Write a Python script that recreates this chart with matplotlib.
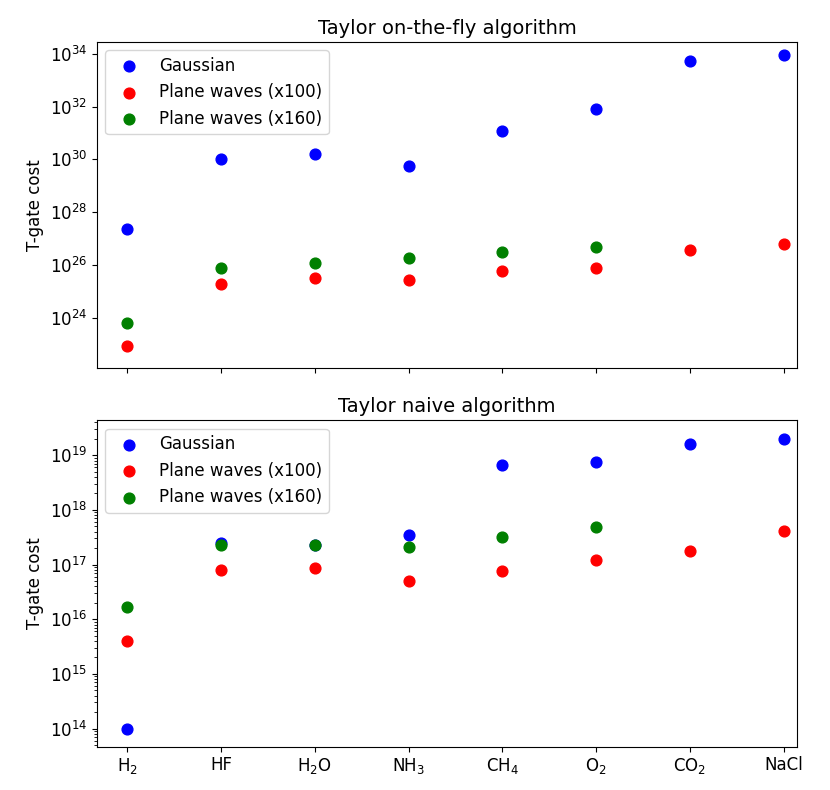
import matplotlib
matplotlib.use("Agg")
import matplotlib.pyplot as plt
import numpy as np

molecules = ['H$_2$', 'HF', 'H$_2$O', 'NH$_3$', 'CH$_4$', 'O$_2$', 'CO$_2$', 'NaCl']

# Taylor on-the-fly
fly_gauss = [2.3e27, 1.0e30, 1.6e30, 5.7e29, 1.2e31, 8e31, 5.4e33, 9e33]
fly_pw100 = [8.7e22, 1.9e25, 3.3e25, 2.7e25, 6e25, 7.8e25, 3.8e26, 6.3e26]
fly_pw160 = [6.5e23, 7.8e25, 1.2e26, 1.9e26, 3.2e26, 4.9e26]

# Taylor naive
naive_gauss = [1.0e14, 2.5e17, 2.3e17, 3.5e17, 6.6e18, 7.5e18, 1.6e19, 1.95e19]
naive_pw100 = [4e15, 8e16, 8.5e16, 5e16, 7.5e16, 1.2e17, 1.8e17, 4.1e17]
naive_pw160 = [1.65e16, 2.3e17, 2.3e17, 2.1e17, 3.2e17, 4.9e17]

fig = plt.figure(figsize=(8.3, 7.9), dpi=100)
ax1 = fig.add_axes([0.117, 0.534, 0.843, 0.413])
ax2 = fig.add_axes([0.117, 0.055, 0.843, 0.413])

x = np.arange(len(molecules))


def panel(ax, gauss, pw100, pw160, title, ylim):
    ax.scatter(x, gauss, color='b', s=60, label='Gaussian')
    ax.scatter(x, pw100, color='r', s=60, label='Plane waves (x100)')
    ax.scatter(x[:len(pw160)], pw160, color='g', s=60, label='Plane waves (x160)')
    ax.set_yscale('log')
    ax.set_ylim(*ylim)
    ax.set_xlim(-0.32, 7.14)
    ax.set_xticks(x)
    ax.set_title(title, fontsize=14)
    ax.set_ylabel('T-gate cost', fontsize=12)
    ax.tick_params(labelsize=12)
    ax.legend(loc='upper left', fontsize=12)


panel(ax1, fly_gauss, fly_pw100, fly_pw160, 'Taylor on-the-fly algorithm', (10**22.1, 10**34.45))
ax1.set_yticks([1e24, 1e26, 1e28, 1e30, 1e32, 1e34])
ax1.set_xticklabels([])
panel(ax2, naive_gauss, naive_pw100, naive_pw160, 'Taylor naive algorithm', (10**13.67, 10**19.64))
ax2.set_xticklabels(molecules)

fig.savefig('out.png')
